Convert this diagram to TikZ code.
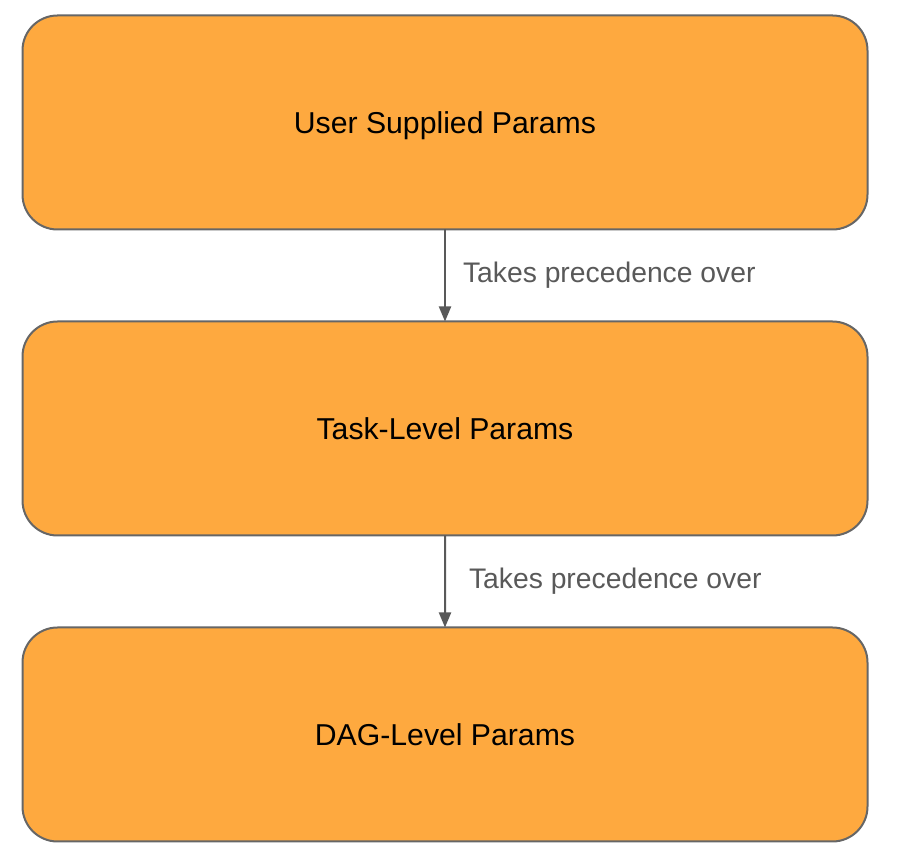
\documentclass[tikz,border=0pt]{standalone}
\usepackage{fontspec}
\setmainfont{Liberation Sans}
\usepackage{xcolor}
\usetikzlibrary{arrows.meta}
\definecolor{boxfill}{HTML}{FEA93F}
\definecolor{boxline}{HTML}{666666}
\definecolor{edgegray}{HTML}{595959}

\begin{document}
\begin{tikzpicture}[x=1pt,y=1pt,level distance=306pt,
    every node/.style={align=center},
    parambox/.style={draw=boxline,line width=2pt,fill=boxfill,rounded corners=35pt,minimum width=845pt,minimum height=214pt,outer sep=0pt,text depth=0pt,font=\fontsize{30.2}{36}\selectfont},
    edge from parent/.style={draw=edgegray,line width=2pt,-{Triangle[length=15pt,width=12pt]}},
    precedence/.style={right,inner sep=0pt,xshift=17pt,text=edgegray,font=\fontsize{28.3}{34}\selectfont}]
    \useasboundingbox (0,0) rectangle (900,864);
    \node[parambox] (user) at (445,741.5) {User Supplied Params}
        child{node[parambox] (task) {Task-Level Params}
            child{node[parambox] (dag) {DAG-Level Params} edge from parent node[precedence,xshift=6pt] (takes2) {Takes precedence over}}
            edge from parent node[precedence] (takes1) {Takes precedence over}};
    \end{tikzpicture}
\end{document}
